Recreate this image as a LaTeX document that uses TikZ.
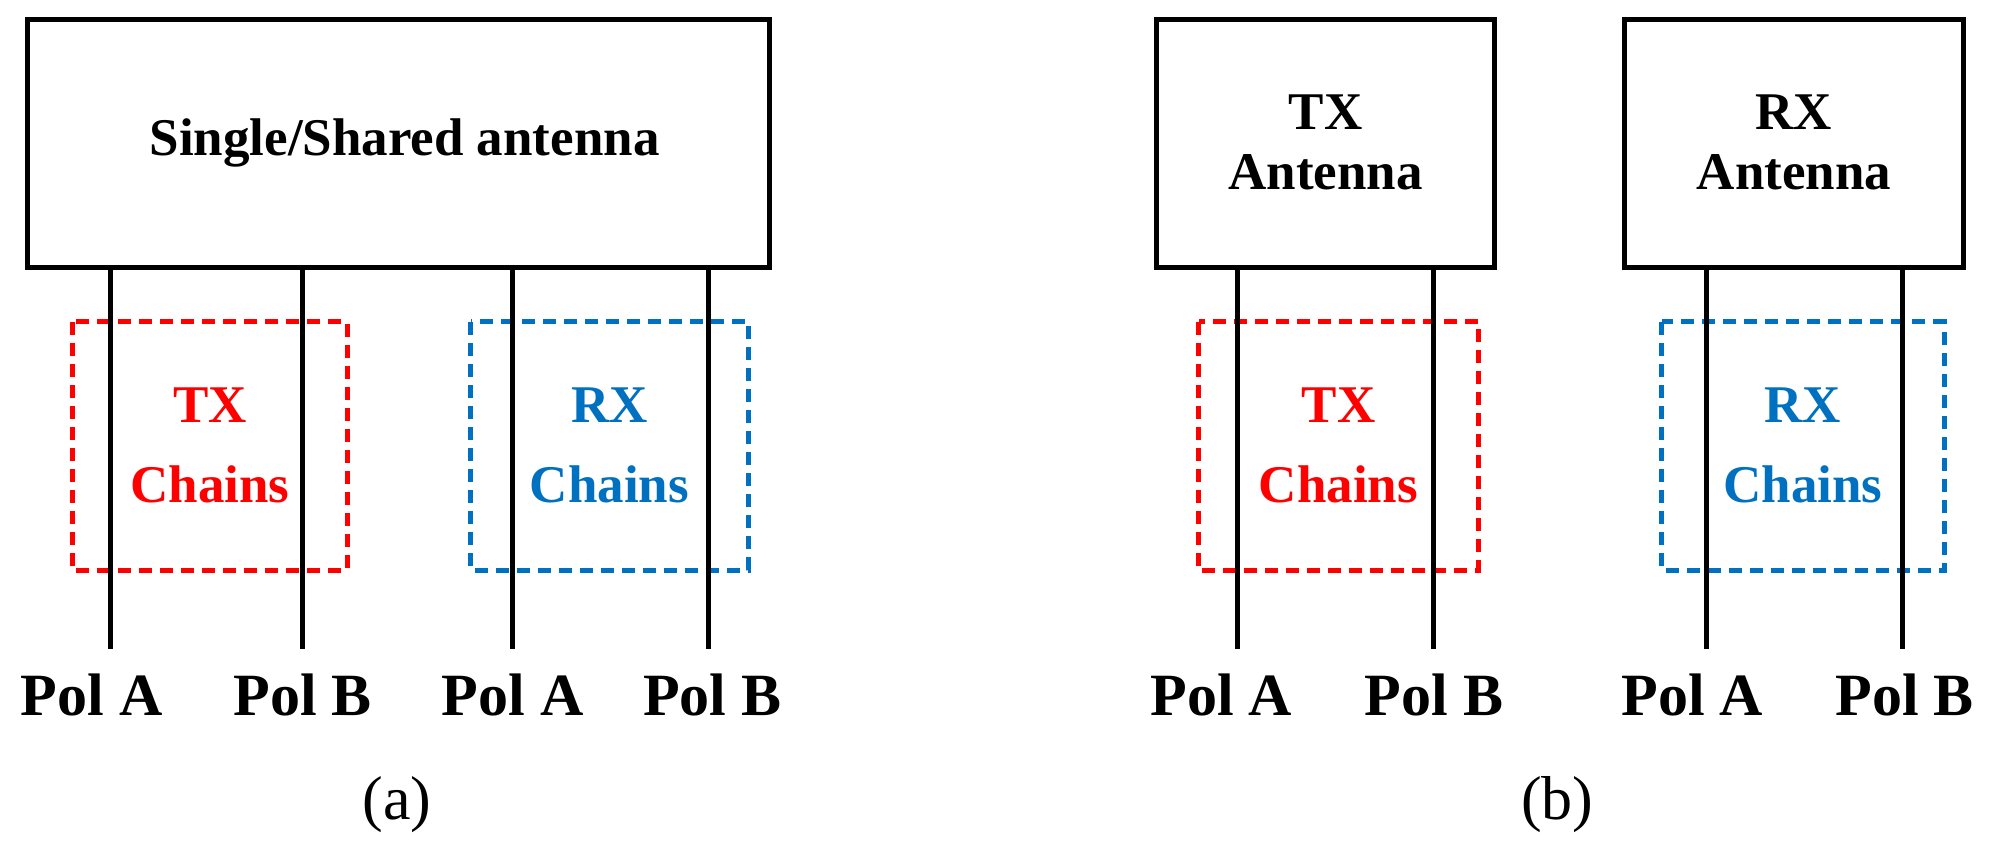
\documentclass[tikz,border=0pt]{standalone}
\usepackage{fontspec}
\setmainfont{Liberation Serif}
\definecolor{myred}{RGB}{255,0,0}
\definecolor{myblue}{RGB}{0,112,192}
\begin{document}
\begin{tikzpicture}[x=1.2723pt,y=-1.2723pt,
  box/.style={draw,line width=5pt},
  feed/.style={line width=5pt},
  chainbox/.style={line width=5pt,dash pattern=on 13pt off 8pt},
  pol/.style={font=\bfseries\fontsize{60}{66}\selectfont,inner sep=0pt},
  lab/.style={font=\bfseries\fontsize{53}{60}\selectfont,align=center,inner sep=0pt},
  clab/.style={font=\bfseries\fontsize{53}{80}\selectfont,align=center,inner sep=0pt},
  captext/.style={font=\fontsize{62}{66}\selectfont,inner sep=0pt}]
\useasboundingbox (0,0) rectangle (1568,672);
% (a)
\draw[box] (22,15) rectangle (605,210);
\node[lab] (big) at (318,112) {Single/Shared antenna};
\draw[chainbox,myred] (57,253) rectangle (273,448);
\draw[chainbox,myblue] (370,253) rectangle (588,448);
\node[clab,text=myred] at (165,350) {TX\\Chains};
\node[clab,text=myblue] at (479,350) {RX\\Chains};
\foreach \x/\n in {87/a1,238/a2,403/a3,557/a4}{
  \coordinate (\n t) at (\x,210); \coordinate (\n b) at (\x,510);
  \draw[feed] (\n t) -- (\n b);}
\node[pol] at (72,546) {Pol A};
\node[pol] at (238,546) {Pol B};
\node[pol] at (403,546) {Pol A};
\node[pol] at (560,546) {Pol B};
\node[captext] at (312,632) {(a)};
% (b)
\draw[box] (909,15) rectangle (1175,210);
\node[lab] (txa) at (1042,112) {TX\\Antenna};
\draw[box] (1277,15) rectangle (1543,210);
\node[lab] (rxa) at (1410,112) {RX\\Antenna};
\draw[chainbox,myred] (942,253) rectangle (1162,448);
\draw[chainbox,myblue] (1306,253) rectangle (1528,448);
\node[clab,text=myred] at (1052,350) {TX\\Chains};
\node[clab,text=myblue] at (1417,350) {RX\\Chains};
\foreach \x/\n in {973/b1,1127/b2,1341/b3,1495/b4}{
  \coordinate (\n t) at (\x,210); \coordinate (\n b) at (\x,510);
  \draw[feed] (\n t) -- (\n b);}
\node[pol] at (960,546) {Pol A};
\node[pol] at (1127,546) {Pol B};
\node[pol] at (1330,546) {Pol A};
\node[pol] at (1497,546) {Pol B};
\node[captext] at (1224,632) {(b)};
\end{tikzpicture}
\end{document}
